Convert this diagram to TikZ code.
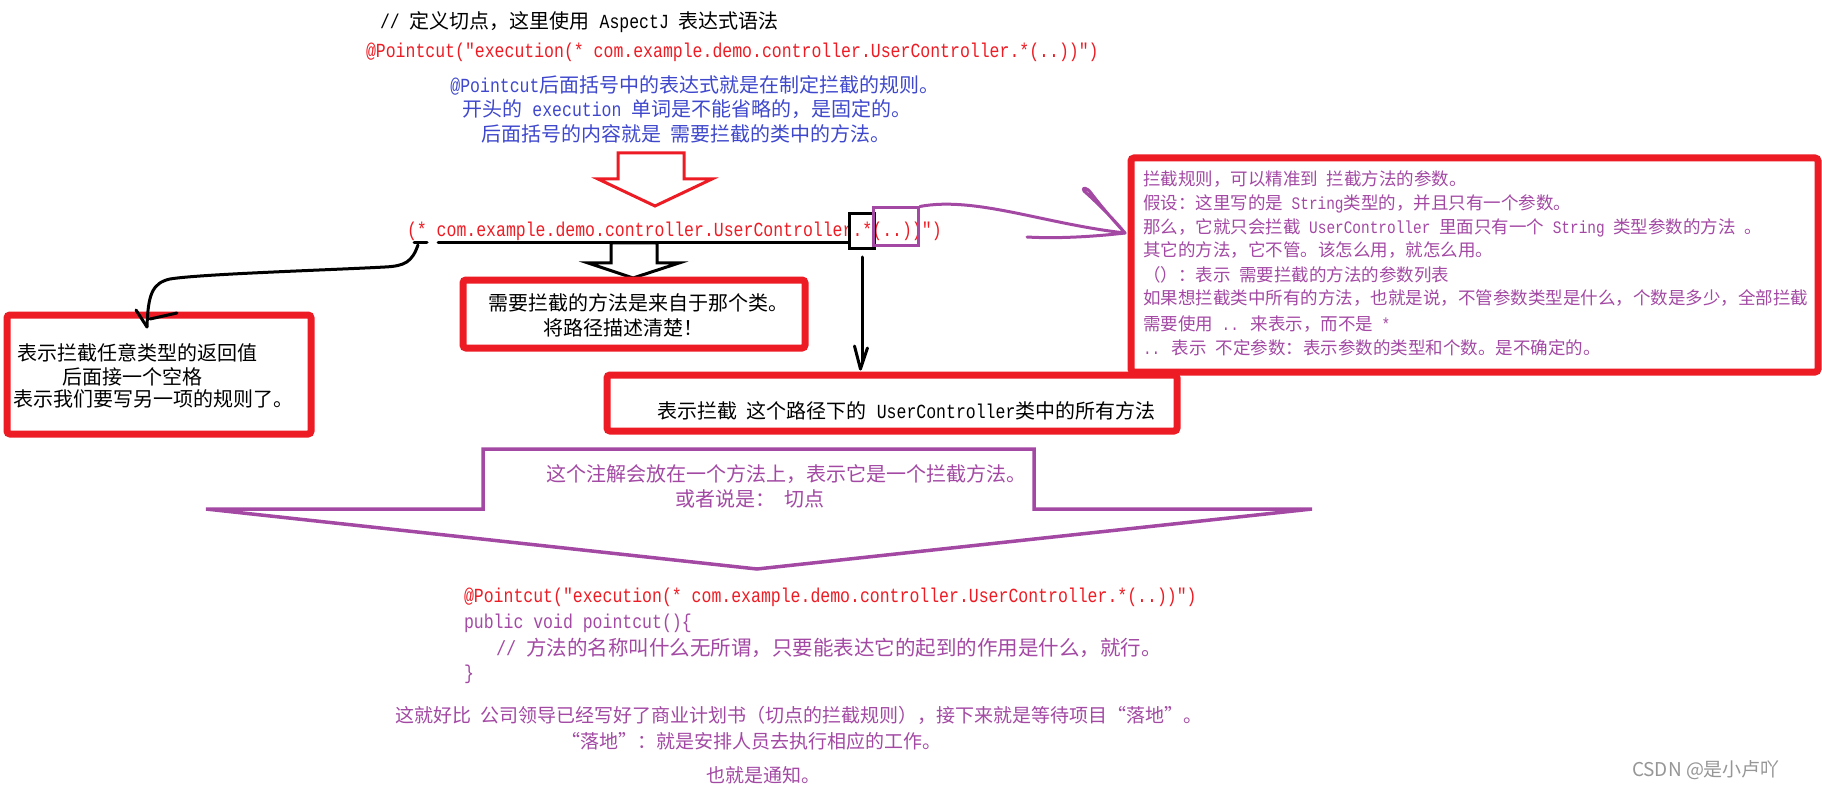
\documentclass[tikz,border=0pt]{standalone}
\usepackage{fontspec}
\setmainfont{Noto Sans CJK SC}
\newfontfamily\monof[FakeStretch=0.825]{Liberation Mono}
\usetikzlibrary{calc}
\definecolor{pRed}{RGB}{237,28,36}
\definecolor{pPurple}{RGB}{163,73,164}
\definecolor{pBlue}{RGB}{63,72,204}
\definecolor{wmGray}{RGB}{150,150,150}
\newcommand{\monot}[1]{{\monof #1}}
\newcommand{\fsz}[1]{\fontsize{#1}{#1}\selectfont}
\begin{document}
\begin{tikzpicture}[x=1pt,y=-1pt,
  tx/.style={inner sep=0pt, outer sep=0pt, anchor=base west},
  txc/.style={inner sep=0pt, outer sep=0pt, anchor=base},
  redbox/.style={draw=pRed, line width=7pt, rounded corners=3pt, inner sep=0pt, outer sep=0pt},
  blk/.style={draw=black, line width=3pt, line cap=round, line join=round},
  purp/.style={draw=pPurple, line width=3pt, line cap=round, line join=round},
  hollowred/.style={draw=pRed, line width=3pt, line join=miter},
  hollowblk/.style={draw=black, line width=3pt, line join=miter},
  big/.style={font=\fsz{20}},
  mid/.style={font=\fsz{19}},
  small/.style={font=\fsz{17.5}},
  code/.style={font=\fsz{20}\monof},
]
\fill[white] (0,0) rectangle (1822,786);
\useasboundingbox (0,0) rectangle (1822,786);

% ---------- top texts
\node[tx,big] (cmt) at (380,29) {\monot{// }定义切点，这里使用\monot{ AspectJ }表达式语法};
\node[tx,code,text=pRed] (pc1) at (366,58) {@Pointcut("execution(* com.example.demo.controller.UserController.*(..))")};
\node[txc,big,text=pBlue] (bl1) at (695,93) {\monot{@Pointcut}后面括号中的表达式就是在制定拦截的规则。};
\node[txc,big,text=pBlue] (bl2) at (687,117) {开头的\monot{ execution }单词是不能省略的，是固定的。};
\node[txc,big,text=pBlue] (bl3) at (686,142) {后面括号的内容就是\monot{ }需要拦截的类中的方法。};

% red hollow arrow
\draw[hollowred] (618,153) -- (684,153) -- (684,179) -- (712,179) -- (655,206) -- (598,179) -- (618,179) -- cycle;

% ---------- code line
\node[tx,code,text=pRed] (cl1) at (407,237) {(* com.example.demo.controller.UserController};
\node[tx,code,text=pRed] (cl2) at (cl1.base east) {.*};
\node[tx,code,text=pRed] (cl3) at (cl2.base east) {(..))};
\node[tx,code,text=pRed] (cl4) at (cl3.base east) {")};

\node[draw=black, line width=3pt, inner sep=0pt, minimum width=25pt, minimum height=35pt] (bbox) at ($(cl2.base)+(0,-6)$) {};
\node[draw=pPurple, line width=3pt, inner sep=0pt, minimum width=45pt, minimum height=38pt] (pbox) at ($(cl3.base west)+(23.5,-10)$) {};

\draw[blk] ($(cl1.base west)+(7,6)$) -- ($(cl1.base west)+(20,6)$);
\coordinate (ustar) at ($(cl1.base west)+(11,8)$);
\draw[blk] ($(cl1.base west)+(31,6)$) -- ($(bbox.west)+(0,12)$);

% black hollow arrow
\draw[hollowblk] (611,243) -- (657,243) -- (657,263) -- (679,263) -- (633,278) -- (588,263) -- (611,263) -- cycle;

% ---------- box A
\node[redbox, minimum width=342pt, minimum height=68pt] (boxA) at (634,314) {};
\node[txc,big] (a1) at (638,310) {需要拦截的方法是来自于那个类。};
\node[txc,big] (a2) at (623,335) {将路径描述清楚！};

% ---------- box B
\node[redbox, minimum width=304pt, minimum height=119pt] (boxB) at (159,374.5) {};
\node[tx,big] (bt1) at (17,360) {表示拦截任意类型的返回值};
\node[tx,big] (bt2) at (62,384) {后面接一个空格};
\node[tx,big] (bt3) at (13,406) {表示我们要写另一项的规则了。};

\coordinate (tipB) at ($(boxB.north)+(-12,12)$);
\draw[blk] (ustar) .. controls (412,262) and (405,266) .. (385,267)
  .. controls (330,270) and (200,274) .. (170,279)
  .. controls (152,283) and (148,295) .. (tipB);
\draw[blk] ($(tipB)+(-11,-17)$) -- (tipB);
\draw[blk] ($(tipB)+(30,-14)$) -- ($(tipB)+(3,-8)$);

% ---------- box C
\node[redbox, minimum width=570pt, minimum height=56pt] (boxC) at (892,403) {};
\node[tx,big] (ct) at (657,418) {表示拦截\monot{ }这个路径下的\monot{ UserController}类中的所有方法};

\draw[blk] ($(bbox.south)+(0,7)$) -- ($(bbox.south)+(0,112)$);
\draw[blk] ($(bbox.south)+(-8,96)$) -- ($(bbox.south)+(-2,119)$) -- ($(bbox.south)+(5,98)$);

% ---------- box D
\node[redbox, minimum width=687pt, minimum height=214pt] (boxD) at (1474.5,265) {};
\node[tx,small,text=pPurple] (d1) at (1143,186) {拦截规则，可以精准到\monot{ }拦截方法的参数。};
\node[tx,small,text=pPurple] (d2) at (1143,210) {假设：这里写的是\monot{ String}类型的，并且只有一个参数。};
\node[tx,small,text=pPurple] (d3) at (1143,234) {那么，它就只会拦截\monot{ UserController }里面只有一个\monot{ String }类型参数的方法\monot{ }。};
\node[tx,small,text=pPurple] (d4) at (1143,257) {其它的方法，它不管。该怎么用，就怎么用。};
\node[tx,small,text=pPurple] (d5) at (1143,281) {（）：表示\monot{ }需要拦截的方法的参数列表};
\node[tx,small,text=pPurple] (d6) at (1143,305) {如果想拦截类中所有的方法，也就是说，不管参数类型是什么，个数是多少，全部拦截};
\node[tx,small,text=pPurple] (d7) at (1143,330) {需要使用\monot{ .. }来表示，而不是\monot{ *}};
\node[tx,small,text=pPurple] (d8) at (1143,354) {\monot{.. }表示\monot{ }不定参数：表示参数的类型和个数。是不确定的。};

\coordinate (tipD) at ($(boxD.west)+(-6,-32)$);
\coordinate (lowS) at (1027,237);
\draw[purp] (pbox.north east) .. controls (975,196) and (1045,224) .. (tipD);
\draw[purp] (lowS) .. controls (1060,239) and (1100,236) .. (tipD);
\draw[purp] (tipD) .. controls (1110,215) and (1092,198) .. (1084,191)
  .. controls (1081,187) and (1087,187) .. (1091,193)
  .. controls (1100,205) and (1113,220) .. (tipD);

% ---------- big purple arrow
\draw[purp, line width=3.5pt, line join=miter] (206,509) -- (483,509) -- (483,449) -- (1034,449) -- (1034,509) -- (1312,509) -- (757,569) -- cycle;
\node[tx,big,text=pPurple] (bg1) at (546,481) {这个注解会放在一个方法上，表示它是一个拦截方法。};
\node[tx,big,text=pPurple] (bg2) at (675,506) {或者说是：\monot{ }切点};

% ---------- bottom code
\node[tx,code,text=pRed] (pc2) at (464,602) {@Pointcut("execution(* com.example.demo.controller.UserController.*(..))")};
\node[tx,code,text=pPurple] (pv) at (464,628) {public void pointcut()\{};
\node[tx,font=\fsz{20.5},text=pPurple] (pcm) at (496,655) {\monot{// }方法的名称叫什么无所谓，只要能表达它的起到的作用是什么，就行。};
\node[tx,code,text=pPurple] (pbr) at (464,679) {\}};

\node[tx,mid,text=pPurple] (n1) at (395,722) {这就好比\monot{ }公司领导已经写好了商业计划书（切点的拦截规则），接下来就是等待项目“落地”。};
\node[tx,mid,text=pPurple] (n2) at (561,748) {“落地”：就是安排人员去执行相应的工作。};
\node[tx,mid,text=pPurple] (n3) at (706,782) {也就是通知。};

\node[tx,font=\fsz{19},text=wmGray] (wm) at (1632,776) {CSDN @是小卢吖};
\end{tikzpicture}
\end{document}
